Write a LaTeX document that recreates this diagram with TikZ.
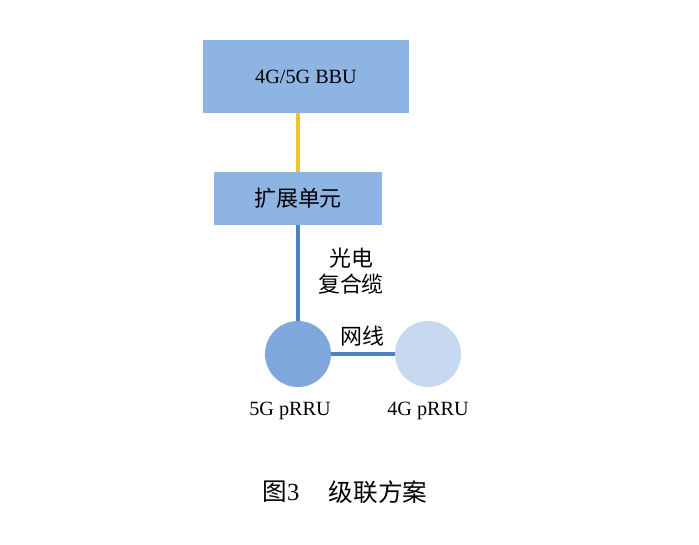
\documentclass[tikz,border=0pt]{standalone}
\usepackage{fontspec}
\setmainfont{Liberation Serif}
\newfontfamily\cjk{Noto Sans CJK SC}
\definecolor{boxc}{HTML}{8EB4E3}
\definecolor{c5}{HTML}{7FA7DB}
\definecolor{c4}{HTML}{C6D9F1}
\definecolor{ln}{HTML}{4F81BD}
\definecolor{yl}{HTML}{F2C12E}
\begin{document}
\begin{tikzpicture}[x=0.02cm,y=-0.02cm,
  lbl/.style={font=\fontsize{11.5pt}{13pt}\selectfont, inner sep=0pt},
  clbl/.style={font=\fontsize{12.5pt}{14pt}\selectfont\cjk, inner sep=0pt},
  boxs/.style={fill=boxc, draw=none, inner sep=0pt}]
\useasboundingbox (0,0) rectangle (699,544);
\node[boxs, minimum width=4.12cm, minimum height=1.46cm] (bbu) at (306,76.5) {};
\node[lbl] at (bbu) {4G/5G BBU};
\node[boxs, minimum width=3.36cm, minimum height=1.06cm] (ext) at (298,198.5) {};
\node[clbl] at (ext) {扩展单元};
\node[circle, fill=c5, minimum size=1.32cm, inner sep=0pt] (p5) at (298,354) {};
\node[circle, fill=c4, minimum size=1.32cm, inner sep=0pt] (p4) at (428,354) {};
\coordinate (bt) at (298,113);
\draw[yl, line width=2.8pt] (bt) -- (ext.north);
\draw[ln, line width=2.2pt] (ext.south) -- (p5.north);
\draw[ln, line width=2.2pt] (p5.east) -- (p4.west);
\node[clbl] at (351,258) {光电};
\node[clbl] at (351,284) {复合缆};
\node[clbl] at (362,336) {网线};
\node[lbl] at (290,411) {5G pRRU};
\node[lbl] at (428,411) {4G pRRU};
\node[font=\fontsize{14pt}{16pt}\selectfont, inner sep=0pt] at (281,492) {\cjk 图\rmfamily 3};
\node[font=\fontsize{14pt}{16pt}\selectfont\cjk, inner sep=0pt] at (378,492) {级联方案};
\end{tikzpicture}
\end{document}
